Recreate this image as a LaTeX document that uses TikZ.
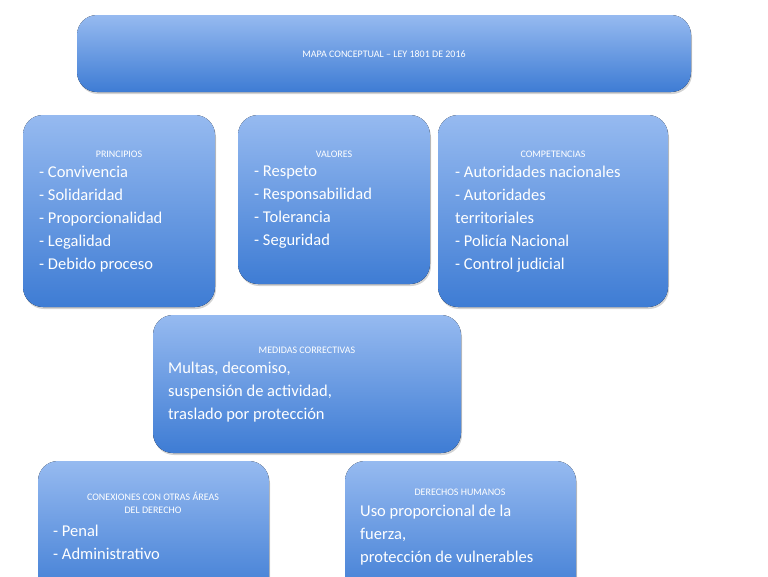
\documentclass[tikz,border=0pt]{standalone}
\usepackage{fontspec}
\setmainfont{Carlito}
\usetikzlibrary{shadows}
\definecolor{ctop}{RGB}{150,186,240}
\definecolor{cbot}{RGB}{62,124,212}
\tikzset{
 card/.style={rounded corners=20pt, draw=none, top color=ctop, bottom color=cbot, drop shadow={shadow xshift=1pt,shadow yshift=-2pt,opacity=0.35}},
 ttl/.style={text=white, font=\fontsize{10}{13}\selectfont, align=center, inner sep=0},
 body/.style={text=white, font=\fontsize{16.5}{23}\selectfont, align=left, anchor=north west, inner sep=0}
}
\begin{document}
\begin{tikzpicture}[x=1pt,y=-1pt]
\useasboundingbox (0,0) rectangle (768,576);
\fill[card] (77,15) rectangle (691,92);
\node[ttl] (t) at (384,54) {MAPA CONCEPTUAL – LEY 1801 DE 2016};

\fill[card] (23,115) rectangle (215,307);
\node[ttl] (p) at (119,154) {PRINCIPIOS};
\node[body] (pb) at (39,166) {- Convivencia\\- Solidaridad\\- Proporcionalidad\\- Legalidad\\- Debido proceso};

\fill[card] (238,115) rectangle (430,284);
\node[ttl] (v) at (334,154) {VALORES};
\node[body] (vb) at (254,166) {- Respeto\\- Responsabilidad\\- Tolerancia\\- Seguridad};

\fill[card] (438,115) rectangle (668,307);
\node[ttl] (c) at (553,154) {COMPETENCIAS};
\node[body] (cb) at (455,166) {- Autoridades nacionales\\- Autoridades\\territoriales\\- Policía Nacional\\- Control judicial};

\fill[card] (153,315) rectangle (461,453);
\node[ttl] (m) at (307,350) {MEDIDAS CORRECTIVAS};
\node[body] (mb) at (168,362) {Multas, decomiso,\\suspensión de actividad,\\traslado por protección};

\fill[card] (38,461) rectangle (269,600);
\node[ttl] (x) at (153,503) {CONEXIONES CON OTRAS ÁREAS\\DEL DERECHO};
\node[body] (xb) at (53,525) {- Penal\\- Administrativo};

\fill[card] (345,461) rectangle (576,600);
\node[ttl] (d) at (460,492) {DERECHOS HUMANOS};
\node[body] (db) at (360,505) {Uso proporcional de la\\fuerza,\\protección de vulnerables};
\end{tikzpicture}
\end{document}
